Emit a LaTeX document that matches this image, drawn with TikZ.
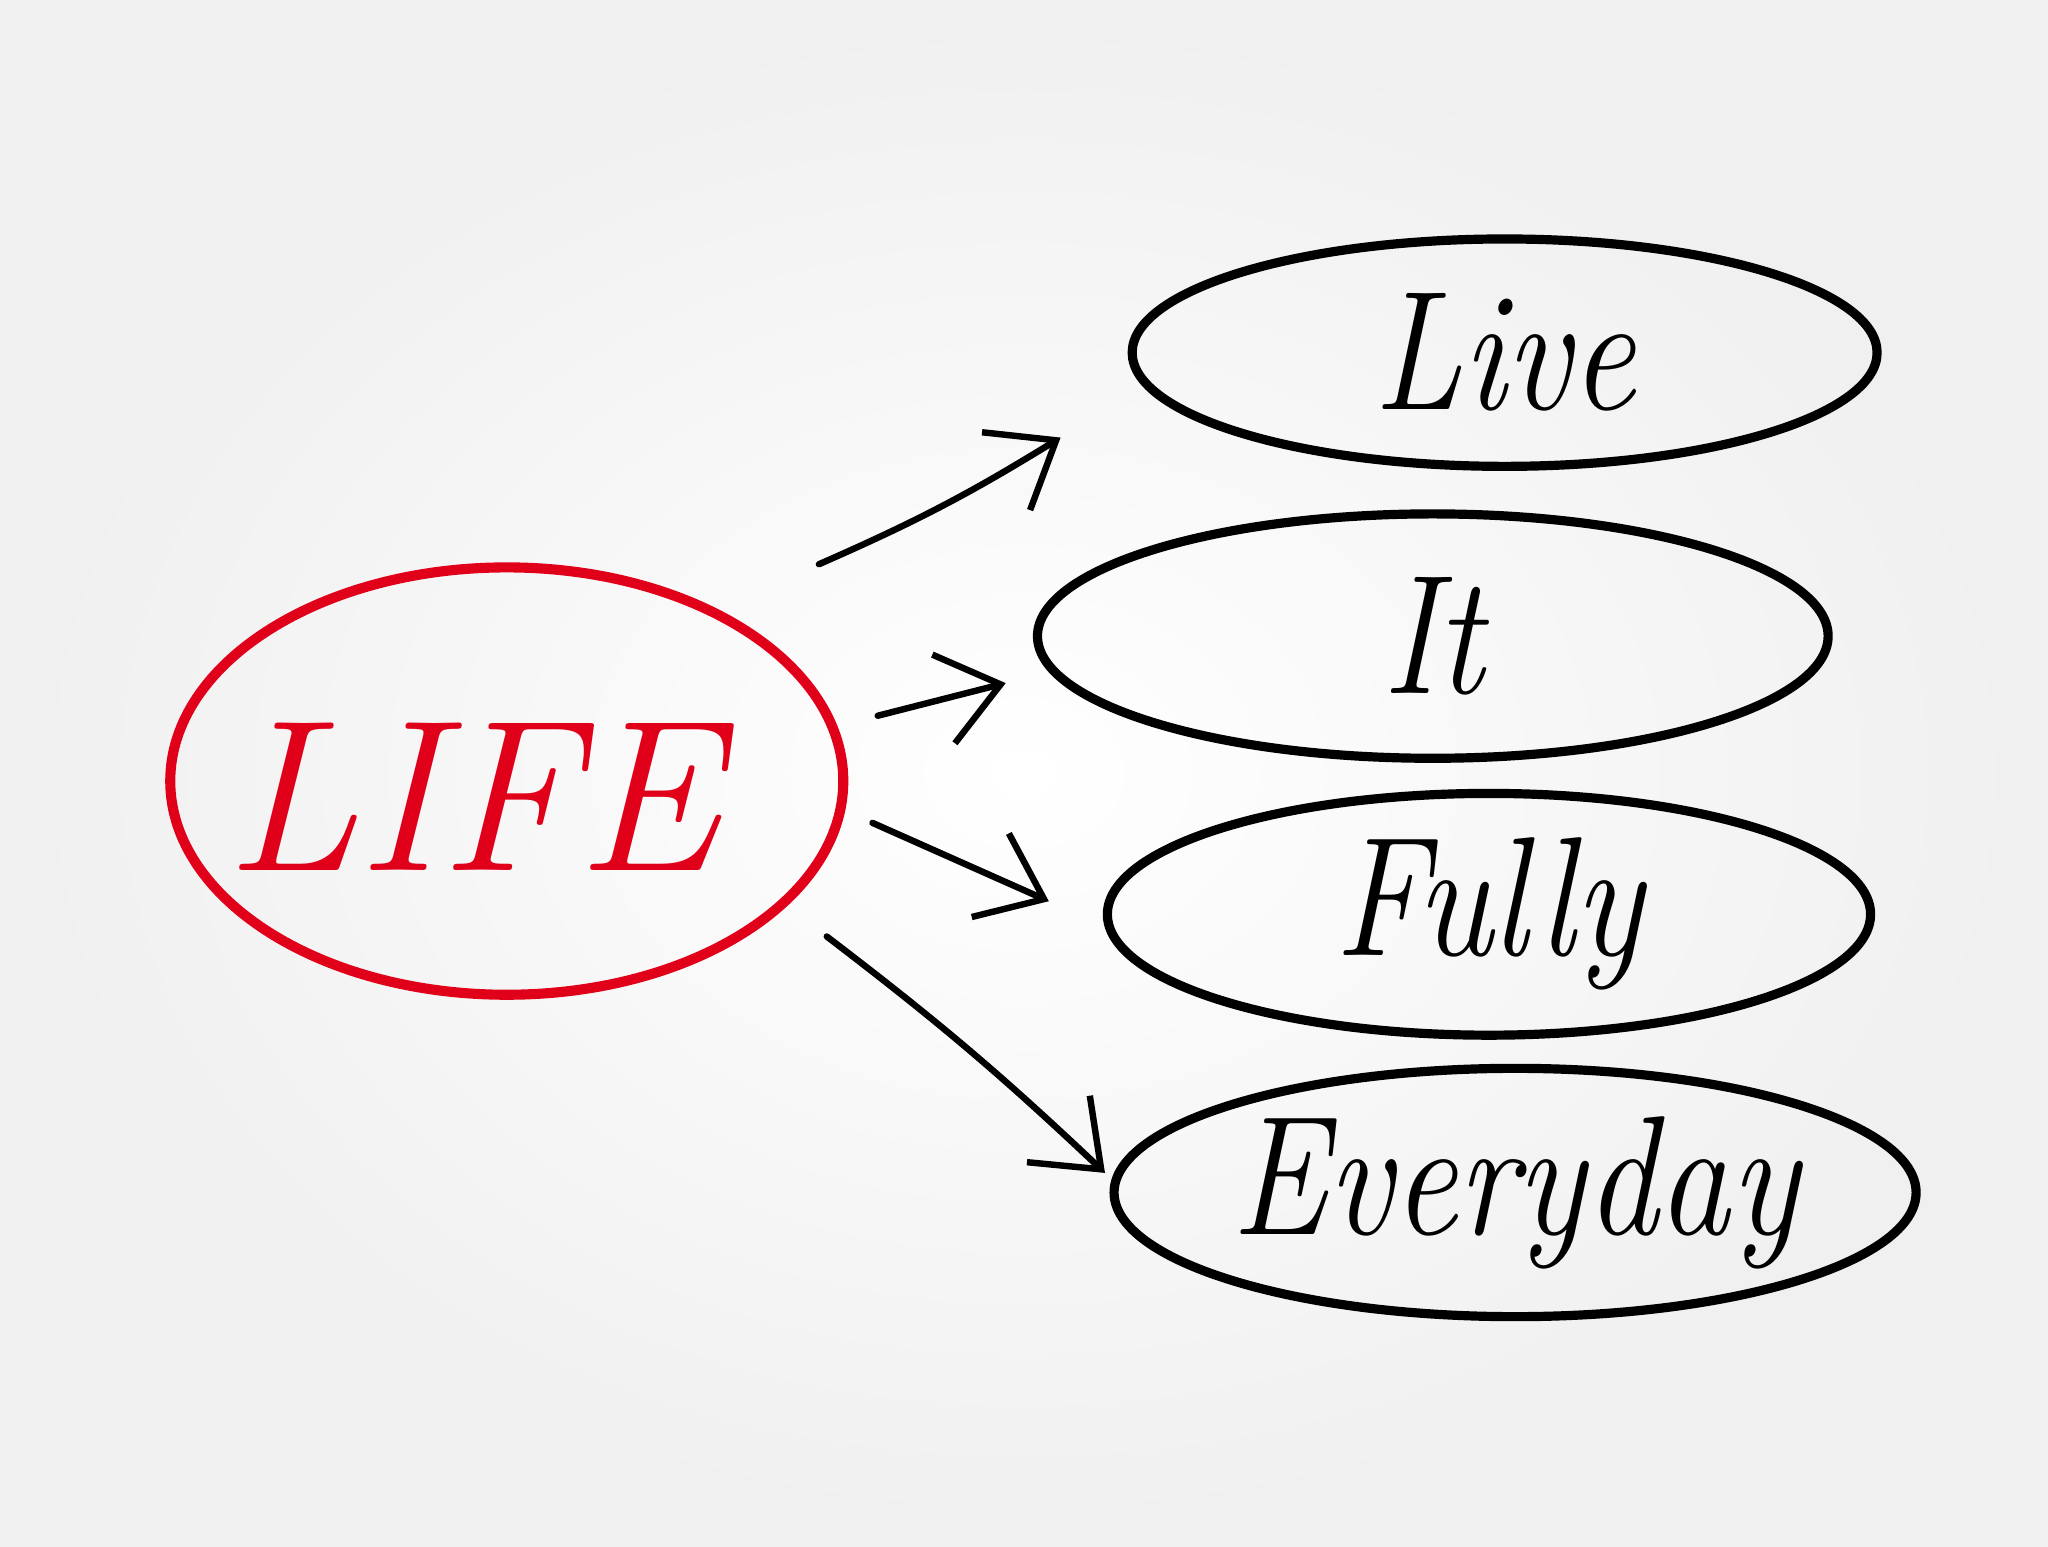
\documentclass[tikz,border=0pt]{standalone}
\usepackage{tikz}
\usetikzlibrary{shapes.geometric,arrows.meta,positioning}
\definecolor{lifered}{HTML}{E1001A}
\newcommand{\squeeze}[1]{\scalebox{0.85}[1]{#1}}

\begin{document}
\begin{tikzpicture}[
    x=0.01cm, y=-0.01cm,
    bubble/.style={ellipse, draw, line width=2pt, inner sep=0pt,
        font=\fontsize{37}{40}\selectfont\itshape},
    pointer/.style={line width=1.4pt, line cap=round,
        -{Straight Barb[length=4.5mm,width=7mm,line width=1.4pt]}}
]
\useasboundingbox (0,0) rectangle (1568,1184);
\shade[inner color=white, outer color=gray!12] (0,0) rectangle (1568,1184);

% centre word
\node[bubble, draw=lifered, line width=2.2pt,
    minimum width=5.15cm, minimum height=3.27cm] (life) at (388,598) {};
\node[text=lifered, font=\fontsize{47}{50}\selectfont\itshape]
    (life-text) at (362,610) {LIFE};

% the four words
\node[bubble, minimum width=5.7cm, minimum height=1.74cm] (live) at (1152,270) {\squeeze{Live}};
\node[bubble, minimum width=6.05cm, minimum height=1.87cm] (it) at (1097,487) {\squeeze{It}};
\node[bubble, minimum width=5.84cm, minimum height=1.85cm] (fully) at (1140,700) {\squeeze{Fully}};
\node[bubble, minimum width=5.55cm, minimum height=1.9cm] (everyday) at (1160,913) {\squeeze{Everyday}};

% arrow ends
\coordinate (live-from) at (627,432);
\coordinate (live-to) at (812,335);
\coordinate (it-from) at (672,548);
\coordinate (it-to) at (770,523);
\coordinate (fully-from) at (668,630);
\coordinate (fully-to) at (803,690);
\coordinate (everyday-from) at (633,717);
\coordinate (everyday-to) at (846,898);

\draw[pointer] (live-from) to[bend right=4] (live-to);
\draw[pointer] (it-from) -- (it-to);
\draw[pointer] (fully-from) -- (fully-to);
\draw[pointer] (everyday-from) to[bend left=3] (everyday-to);
\end{tikzpicture}
\end{document}
